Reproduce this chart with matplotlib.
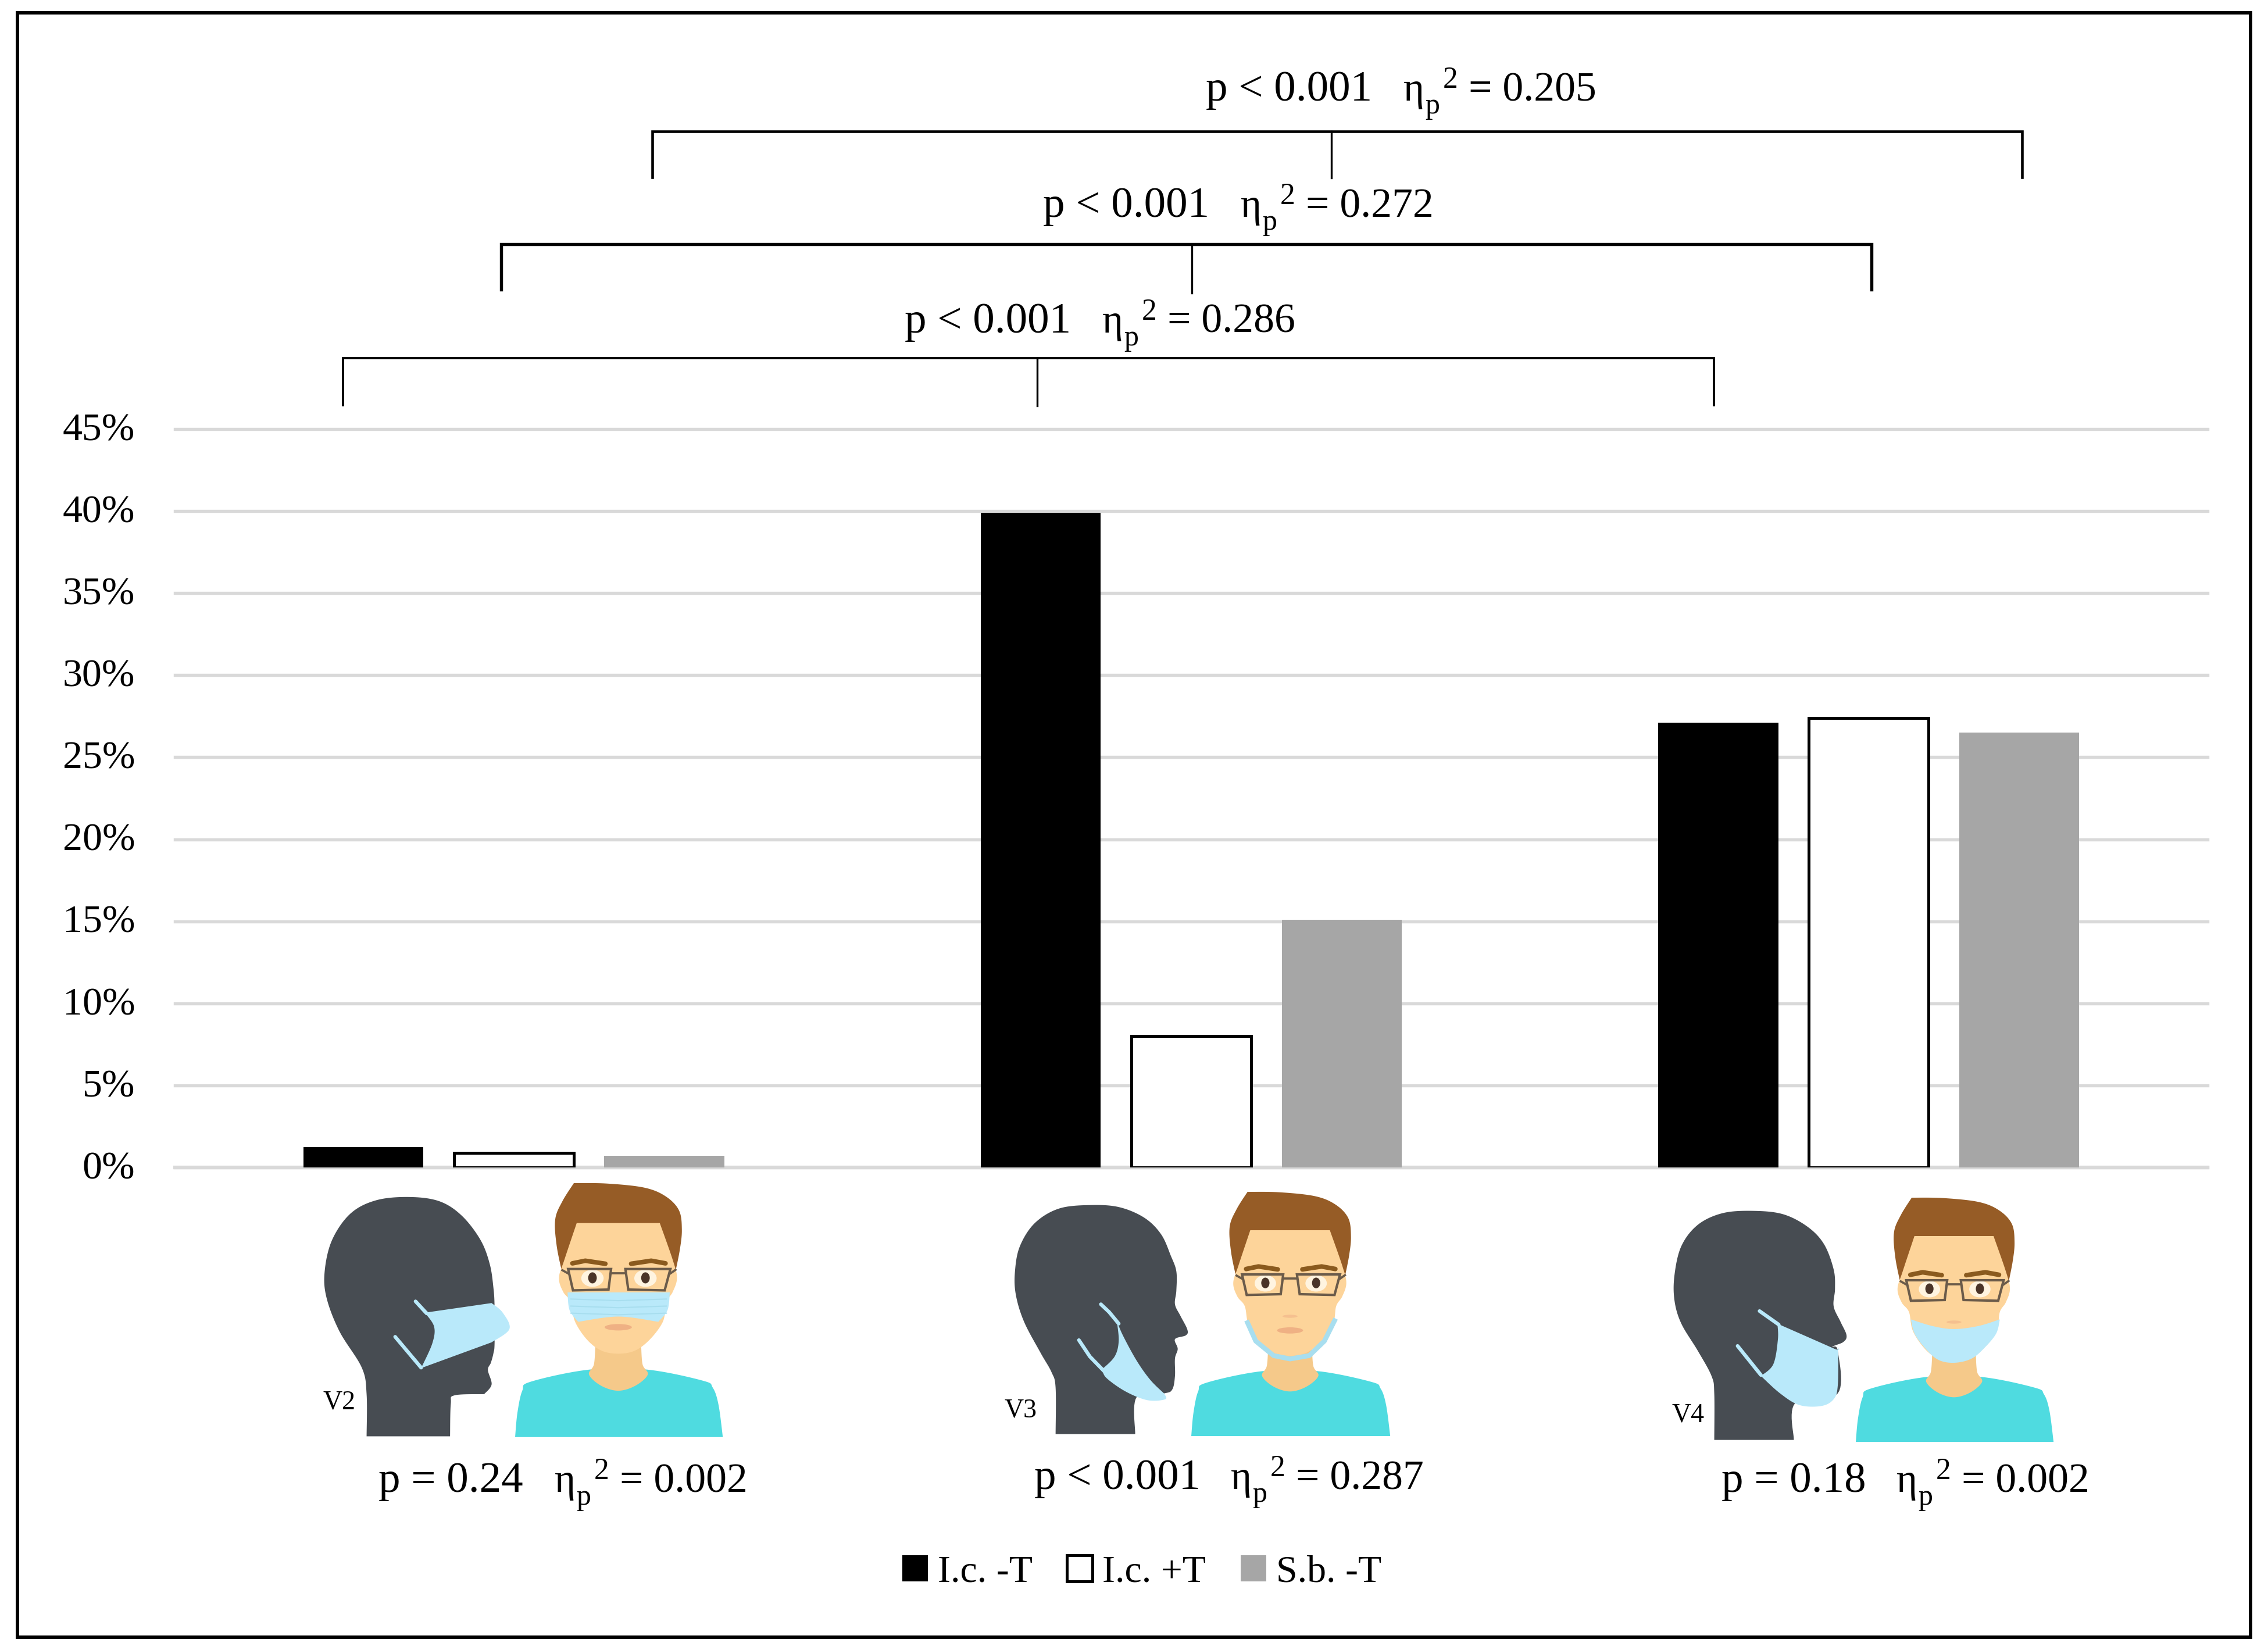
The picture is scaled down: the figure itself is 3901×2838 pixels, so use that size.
import matplotlib
matplotlib.use("Agg")
import matplotlib.pyplot as plt
import numpy as np
from matplotlib.patches import Polygon, Ellipse, Rectangle
from matplotlib.transforms import ScaledTranslation

plt.rcParams['font.family'] = ['Liberation Serif', 'DejaVu Serif']

# chart data
categories = ["V2", "V3", "V4"]
series_names = ["I.c. -T", "I.c. +T", "S.b. -T"]
ic_no_t = [1.25, 39.9, 27.1]
ic_with_t = [0.9, 8.0, 27.4]
sb_no_t = [0.7, 15.1, 26.5]
y_ticks = [0, 5, 10, 15, 20, 25, 30, 35, 40, 45]

visit_p = ["p = 0.24", "p < 0.001", "p = 0.18"]
visit_eta = ["= 0.002", "= 0.287", "= 0.002"]
bracket_p = ["p < 0.001", "p < 0.001", "p < 0.001"]
bracket_eta = ["= 0.286", "= 0.272", "= 0.205"]

W, H = 3901, 2838
DARK = "#474c52"
MASK = "#b9e9fa"
MASK_EDGE = "#a8deef"
SHIRT = "#4fdbe0"
HAIR = "#965c26"
SKIN = "#fdd49a"
NECK = "#f5c98a"


def px(x, y):
    return x / W, 1 - y / H


def smooth(pts, n=12):
    # closed catmull-rom, a repeated point gives a sharp corner
    pts = np.array(pts, dtype=float)
    out = []
    m = len(pts)
    for i in range(m):
        p0, p1, p2, p3 = pts[i - 1], pts[i], pts[(i + 1) % m], pts[(i + 2) % m]
        if np.all(p1 == p2):
            continue
        for t in np.linspace(0, 1, n, endpoint=False):
            out.append(0.5 * (2 * p1 + (p2 - p0) * t
                              + (2 * p0 - 5 * p1 + 4 * p2 - p3) * t ** 2
                              + (3 * p1 - p0 - 3 * p2 + p3) * t ** 3))
    return np.array(out)


fig = plt.figure(figsize=(W / 300, H / 300), dpi=300, facecolor="white")

# bar chart
ax = fig.add_axes([301 / W, 1 - 2008 / H, (3797 - 301) / W, (2008 - 738) / H])
x = np.arange(len(categories))
bar_w = 0.177
step = 0.222
ax.bar(x - step, ic_no_t, bar_w, color="black", label=series_names[0], zorder=3)
ax.bar(x, ic_with_t, bar_w, color="white", edgecolor="black", linewidth=1.2,
       label=series_names[1], zorder=3)
ax.bar(x + step, sb_no_t, bar_w, color="#a6a6a6", label=series_names[2], zorder=3)
ax.set_xlim(-0.5, 2.5)
ax.set_ylim(0, 45)
ax.set_yticks(y_ticks)
ax.set_yticklabels([f"{v}%" for v in y_ticks], fontsize=16.3)
ax.set_xticks([])
ax.tick_params(axis="y", length=0, pad=16.5)
ax.grid(axis="y", color="#d9d9d9", linewidth=1.3, zorder=0)
ax.set_axisbelow(True)
for side in ["top", "right", "left"]:
    ax.spines[side].set_visible(False)
ax.spines["bottom"].set_color("#d9d9d9")
ax.spines["bottom"].set_linewidth(1.5)
for grid_line in ax.get_ygridlines():
    grid_line.set_clip_on(False)
for lab in ax.get_yticklabels():
    lab.set_transform(lab.get_transform() + ScaledTranslation(0, 1 / 72, fig.dpi_scale_trans))

# overlay in picture pixels for frame, brackets, labels and icons
ov = fig.add_axes([0, 0, 1, 1], facecolor="none")
ov.set_xlim(0, W)
ov.set_ylim(H, 0)
ov.axis("off")

ov.add_patch(Rectangle((30, 22), 3841, 2794, fill=False, edgecolor="black", linewidth=1.4))


def bracket(x_left, x_mid, x_right, y_top, y_low, y_stem, lw):
    ov.plot([x_left, x_left, x_right, x_right], [y_low, y_top, y_top, y_low],
            color="black", linewidth=lw, solid_joinstyle="miter")
    ov.plot([x_mid, x_mid], [y_top, y_stem], color="black", linewidth=0.8)


bracket(590, 1784, 2948, 616, 697, 698, 0.9)
bracket(862, 2050, 3219, 420, 498, 504, 1.3)
bracket(1122, 2290, 3478, 226, 305, 306, 1.1)


def stat_label(x0, base, p_text, eta_text, off):
    ov.text(x0, base, p_text, fontsize=18, ha="left", va="baseline")
    ov.text(x0 + off, base, "\u03b7", fontsize=16.5, ha="left", va="baseline")
    ov.text(x0 + off + 37, base + 22, "p", fontsize=12, ha="left", va="baseline")
    ov.text(x0 + off + 68, base - 22, "2", fontsize=12.4, ha="left", va="baseline")
    ov.text(x0 + off + 112, base, eta_text, fontsize=17.2, ha="left", va="baseline")


stat_label(1556, 572, bracket_p[0], bracket_eta[0], 340)
stat_label(1794, 373, bracket_p[1], bracket_eta[1], 340)
stat_label(2074, 173, bracket_p[2], bracket_eta[2], 340)
stat_label(651, 2566, visit_p[0], visit_eta[0], 303)
stat_label(1779, 2561, visit_p[1], visit_eta[1], 338)
stat_label(2961, 2566, visit_p[2], visit_eta[2], 301)

ov.text(555, 2423, categories[0], fontsize=11, va="baseline")
ov.text(1728, 2437, categories[1], fontsize=11, va="baseline")
ov.text(2875, 2445, categories[2], fontsize=11, va="baseline")


def strap(mapper, pts, lw=1.5):
    arr = mapper(np.array(pts, dtype=float))
    ov.plot(arr[:, 0], arr[:, 1], color=MASK, linewidth=lw, solid_capstyle="round", zorder=5)


def zoom_map(x0, y0, fx, fy):
    def f(pts):
        pts = np.asarray(pts, dtype=float)
        return np.column_stack([x0 + pts[:, 0] * fx, y0 + pts[:, 1] * fy])
    return f


def draw_side(mapper, head, mask, straps):
    ov.add_patch(Polygon(mapper(smooth(head)), closed=True, fc=DARK, ec="none", zorder=4))
    ov.add_patch(Polygon(mapper(smooth(mask)), closed=True, fc=MASK, ec="none", zorder=5))
    for s in straps:
        strap(mapper, s)


def draw_person(x0, y0, sx, sy, variant):
    def m(pts):
        pts = np.asarray(pts, dtype=float)
        return np.column_stack([x0 + (pts[:, 0] - 740) * 0.472 * sx, y0 + (pts[:, 1] - 90) / 3 * sy])

    def el(cx, cy, w, h, color, z=6):
        c = m([[cx, cy]])[0]
        ov.add_patch(Ellipse(c, w * 0.472 * sx, h / 3 * sy, fc=color, ec="none", zorder=z))

    shirt = [(740, 1350), (740, 1350), (748, 1230), (765, 1120), (795, 1075), (1000, 1015),
             (1200, 1015), (1395, 1070), (1430, 1105), (1450, 1190), (1465, 1350), (1465, 1350)]
    ov.add_patch(Polygon(m(smooth(shirt)), closed=True, fc=SHIRT, ec="none", zorder=4))
    neck = [(1020, 900), (1020, 900), (1015, 990), (998, 1040), (1040, 1095), (1100, 1120),
            (1160, 1095), (1203, 1040), (1185, 990), (1180, 900), (1180, 900)]
    ov.add_patch(Polygon(m(smooth(neck)), closed=True, fc=NECK, ec="none", zorder=5))
    hair = [(945, 90), (945, 90), (1060, 92), (1190, 112), (1265, 155), (1312, 225), (1322, 320),
            (1315, 420), (1298, 540), (1298, 540), (905, 540), (905, 540), (885, 400), (880, 270),
            (905, 180)]
    ov.add_patch(Polygon(m(smooth(hair)), closed=True, fc=HAIR, ec="none", zorder=5))
    face = [(955, 288), (955, 288), (1245, 288), (1245, 288), (1290, 470), (1305, 560), (1290, 630),
            (1268, 680), (1255, 780), (1200, 880), (1140, 930), (1060, 930), (1000, 880),
            (950, 780), (935, 680), (908, 630), (893, 560), (912, 470)]
    ov.add_patch(Polygon(m(smooth(face)), closed=True, fc=SKIN, ec="none", zorder=6))

    # brows, eyes, glasses
    for brow in ([(940, 488), (985, 475), (1055, 490)], [(1145, 490), (1215, 475), (1265, 488)]):
        arr = m(brow)
        ov.plot(arr[:, 0], arr[:, 1], color="#8a5a1e", linewidth=1.9, zorder=7, solid_capstyle="round")
    for ex in (1010, 1195):
        el(ex, 562, 78, 85, "#fff4e0", 7)
        el(ex, 560, 30, 55, "#4a3428", 8)
    for rim in ([(925, 516), (1075, 516), (1066, 618), (942, 622)],
                [(1125, 516), (1282, 516), (1262, 622), (1135, 618)]):
        ov.add_patch(Polygon(m(rim), closed=True, fill=False, ec="#6b5b4a", linewidth=1.0, zorder=8))
    for seg in ([(1075, 538), (1125, 538)], [(905, 522), (925, 538)], [(1282, 538), (1300, 520)]):
        arr = m(seg)
        ov.plot(arr[:, 0], arr[:, 1], color="#6b5b4a", linewidth=0.9, zorder=8)
    el(1100, 732, 55, 16, "#f5c08f", 7)
    el(1100, 805, 95, 32, "#efb184", 7)

    if variant == "V2":
        mask = [(923, 632), (923, 632), (1280, 632), (1280, 632), (1272, 720), (1240, 778), (1240, 778),
                (1100, 752), (960, 778), (960, 778), (930, 720)]
        ov.add_patch(Polygon(m(smooth(mask)), closed=True, fc=MASK, ec="none", zorder=9))
        for yy in (665, 700, 735):
            arr = m([(935, yy), (1100, yy + 8), (1268, yy)])
            ov.plot(arr[:, 0], arr[:, 1], color=MASK_EDGE, linewidth=0.5, zorder=9)
    elif variant == "V3":
        arr = m([(945, 765), (975, 860), (1040, 935), (1100, 952), (1170, 935), (1225, 860), (1262, 755)])
        ov.plot(arr[:, 0], arr[:, 1], color=MASK_EDGE, linewidth=2.0, zorder=9)
    else:
        mask = [(942, 718), (942, 718), (1020, 752), (1100, 768), (1190, 752), (1268, 718), (1268, 718),
                (1255, 790), (1215, 860), (1165, 920), (1100, 942), (1040, 925), (990, 860), (955, 790)]
        ov.add_patch(Polygon(m(smooth(mask)), closed=True, fc=MASK, ec="none", zorder=9))


# side heads, outlines
map_v2 = zoom_map(450, 2000, 0.638, 0.4145)
map_v3 = zoom_map(1700, 2020, 0.472, 1 / 3)
map_v4 = zoom_map(2840, 2030, 0.472, 1 / 3)

head_v2 = [(283, 1135), (283, 1135), (283, 960), (270, 850), (210, 700), (175, 560), (170, 450),
           (190, 320), (240, 210), (310, 155), (400, 142), (480, 160), (540, 220), (590, 320),
           (615, 420), (625, 520), (628, 600), (628, 750), (625, 790), (618, 830), (610, 860),
           (620, 920), (600, 960), (600, 960), (520, 965), (510, 1000), (508, 1135), (508, 1135)]
mask_v2 = [(440, 622), (440, 622), (620, 582), (620, 582), (650, 622), (668, 690), (620, 745), (620, 745),
           (430, 852), (430, 852), (460, 750), (465, 680)]
straps_v2 = [[(415, 575), (445, 625)], [(360, 722), (430, 850)]]

head_v3 = [(245, 1340), (245, 1340), (245, 1100), (230, 1020), (190, 920), (130, 760), (100, 620),
           (97, 500), (115, 370), (170, 250), (260, 175), (380, 158), (480, 170), (570, 225),
           (630, 310), (665, 420), (685, 500), (685, 600), (680, 670), (700, 730), (725, 800),
           (720, 830), (680, 850), (690, 900), (680, 950), (680, 1040), (670, 1110), (640, 1130),
           (540, 1150), (535, 1340), (535, 1340)]
mask_v3 = [(468, 755), (468, 755), (490, 830), (540, 960), (590, 1060), (640, 1130), (640, 1130),
           (645, 1160), (580, 1165), (500, 1120), (430, 1050), (415, 1005), (415, 1005), (460, 940),
           (475, 860)]
straps_v3 = [[(410, 670), (440, 710), (475, 770)], [(330, 855), (370, 940), (425, 1020)]]

head_v4 = [(230, 1340), (230, 1340), (230, 1100), (220, 1010), (170, 880), (110, 740), (85, 620),
           (85, 490), (110, 340), (170, 230), (260, 170), (370, 158), (480, 175), (570, 240),
           (630, 330), (665, 460), (670, 560), (665, 650), (690, 730), (712, 800), (700, 835),
           (660, 860), (680, 880), (680, 1100), (525, 1150), (520, 1340), (520, 1340)]
mask_v4 = [(460, 740), (460, 740), (665, 868), (680, 880), (680, 1060), (665, 1130), (620, 1165),
           (540, 1160), (470, 1100), (400, 1010), (400, 1010), (445, 950), (462, 820)]
straps_v4 = [[(395, 675), (465, 745)], [(315, 855), (400, 1005)]]

draw_side(map_v2, head_v2, mask_v2, straps_v2)
draw_side(map_v3, head_v3, mask_v3, straps_v3)
draw_side(map_v4, head_v4, mask_v4, straps_v4)

draw_person(886, 2035, 1.044, 1.04, "V2")
draw_person(2049, 2050, 1.0, 1.0, "V3")
draw_person(3192, 2060, 0.994, 1.0, "V4")

# legend
handles, labels = ax.get_legend_handles_labels()
fig.legend(handles, labels, loc="center", bbox_to_anchor=px(1964, 2705), ncol=3, frameon=False,
           fontsize=15.8, handlelength=0.67, handleheight=0.67, handletextpad=0.26,
           columnspacing=0.9, borderpad=0, borderaxespad=0)

fig.savefig("out.png", dpi=300, facecolor="white")
